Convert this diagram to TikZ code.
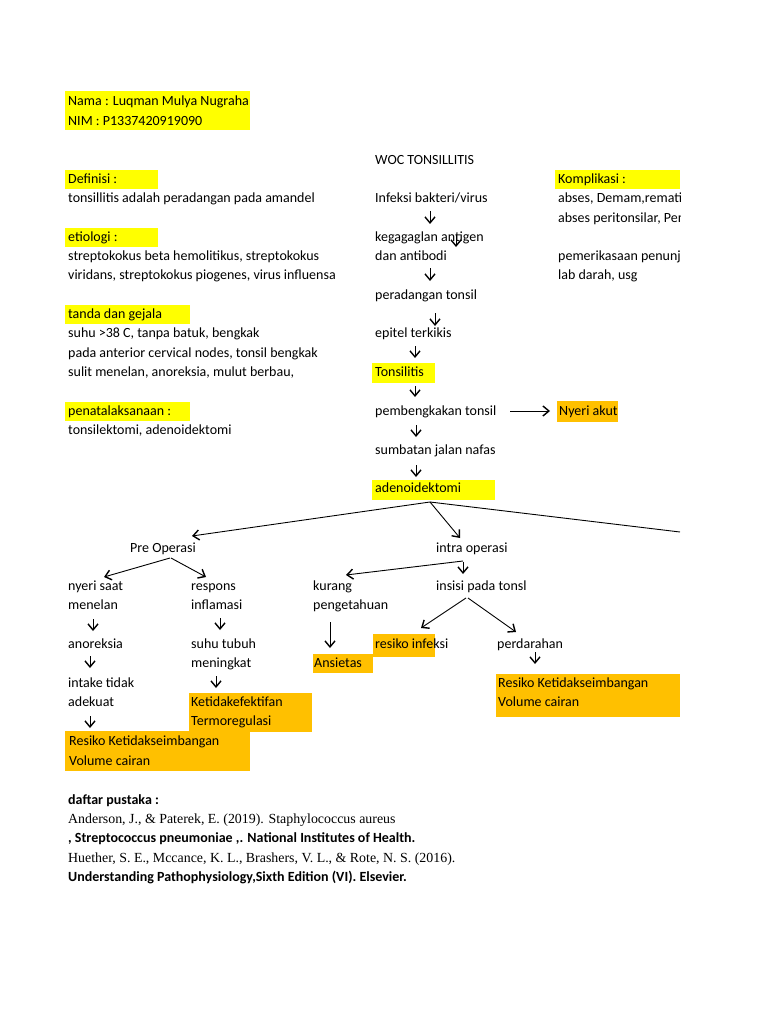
\documentclass[tikz,border=0pt]{standalone}
\usepackage{fontspec}
\setmainfont{Carlito}
\newfontfamily\timesf{Liberation Serif}
\usetikzlibrary{arrows.meta}
\definecolor{hy}{HTML}{FFFF00}
\definecolor{ho}{HTML}{FFC000}
\tikzset{
 t/.style={anchor=west,inner sep=0pt,yshift=-1.5pt,text height=9pt,text depth=3pt,font=\fontsize{14}{19}\selectfont},
 hy/.style={fill=hy},
 ho/.style={fill=ho},
 va/.style={draw,line width=0.9pt,-{Straight Barb[length=6pt,width=10pt,line width=1.4pt]}},
 ln/.style={draw,line width=0.9pt}
}
\begin{document}
\begin{tikzpicture}[x=1pt,y=-1pt]
\useasboundingbox (0,0) rectangle (768,1024);
\fill[white] (0,0) rectangle (768,1024);
% highlights
\fill[hy] (65,91) rectangle (250,130);
\fill[hy] (65,170) rectangle (158,189);
\fill[hy] (65,228) rectangle (158,247);
\fill[hy] (65,305) rectangle (190,324);
\fill[hy] (65,402) rectangle (190,421);
\fill[hy] (555,170) rectangle (680,189);
\fill[hy] (372,363) rectangle (435,383);
\fill[hy] (372,480) rectangle (495,500);
\fill[ho] (557,401) rectangle (618,422);
\fill[ho] (65,731) rectangle (250,771);
\fill[ho] (189,693) rectangle (312,732);
\fill[ho] (313,654) rectangle (373,673);
\fill[ho] (373,634) rectangle (435,657);
\fill[ho] (496,674) rectangle (680,717);
% left column
\node[t] (nama) at (68,101) {Nama : Luqman Mulya Nugraha};
\node[t] (nim) at (68,121) {NIM : P1337420919090};
\node[t] (def) at (68,179) {Definisi :};
\node[t] (def1) at (68,198) {tonsillitis adalah peradangan pada amandel};
\node[t] (eti) at (68,237) {etiologi :};
\node[t] (eti1) at (68,256) {streptokokus beta hemolitikus, streptokokus};
\node[t] (eti2) at (68,275) {viridans, streptokokus piogenes, virus influensa};
\node[t] (tg) at (68,314) {tanda dan gejala};
\node[t] (tg1) at (68,333) {suhu >38 C, tanpa batuk, bengkak};
\node[t] (tg2) at (68,353) {pada anterior cervical nodes, tonsil bengkak};
\node[t] (tg3) at (68,372) {sulit menelan, anoreksia, mulut berbau,};
\node[t] (pen) at (68,411) {penatalaksanaan :};
\node[t] (pen1) at (68,430) {tonsilektomi, adenoidektomi};
% right column
\node[t] (kom) at (558,179) {Komplikasi :};
\begin{scope}
\clip (550,150) rectangle (680,290);
\node[t] (kom1) at (558,198) {abses, Demam,rematik};
\node[t] (kom2) at (558,218) {abses peritonsilar, Pembengkakan};
\node[t] (pm1) at (558,256) {pemerikasaan penunjang};
\node[t] (pm2) at (558,275) {lab darah, usg};
\end{scope}
% middle column
\node[t] (woc) at (375,160) {WOC TONSILLITIS};
\node[t] (inf) at (375,198) {Infeksi bakteri/virus};
\node[t] (keg) at (375,237) {kegagaglan antigen};
\node[t] (keg2) at (375,256) {dan antibodi};
\node[t] (per) at (375,295) {peradangan tonsil};
\node[t] (epi) at (375,333) {epitel terkikis};
\node[t] (ton) at (375,372) {Tonsilitis};
\node[t] (pem) at (375,411) {pembengkakan tonsil};
\node[t] (nyeri) at (559,411) {Nyeri akut};
\node[t] (sum) at (375,450) {sumbatan jalan nafas};
\node[t] (ade) at (375,488) {adenoidektomi};
\draw[va] (430,211) -- (430,224);
\draw[va] (456,235) -- (456,247);
\draw[va] (430,268) -- (430,281);
\draw[va] (435,313) -- (435,326);
\draw[va] (415,346) -- (415,358);
\draw[va] (415,386) -- (415,397);
\draw[va] (510,411) -- (550,411);
\draw[va] (416,425) -- (416,437);
\draw[va] (416,465) -- (416,477);
% tree
\coordinate (root) at (430,502);
\draw[va] (root) -- (192,536);
\draw[va] (root) -- (460,538);
\draw[ln] (root) -- (680,532);
\node[t] (pre) at (130,548) {Pre Operasi};
\node[t] (intra) at (436,548) {intra operasi};
\draw[va] (170,558) -- (104,577);
\draw[va] (171,558) -- (206,577);
\node[t] at (68,586) {nyeri saat};
\node[t] at (68,605) {menelan};
\draw[va] (93,619) -- (93,631);
\node[t] at (68,644) {anoreksia};
\draw[va] (90,656) -- (90,668);
\node[t] at (68,683) {intake tidak};
\node[t] at (68,702) {adekuat};
\draw[va] (90,716) -- (90,728);
\node[t] at (69,741) {Resiko Ketidakseimbangan};
\node[t] at (69,761) {Volume cairan};
\node[t] at (191,586) {respons};
\node[t] at (191,605) {inflamasi};
\draw[va] (220,618) -- (220,630);
\node[t] at (191,644) {suhu tubuh};
\node[t] at (191,663) {meningkat};
\draw[va] (216,676) -- (216,688);
\node[t] at (191,702) {Ketidakefektifan};
\node[t] at (191,721) {Termoregulasi};
\draw[va] (463,561) -- (346,575);
\draw[va] (463,562) -- (463,574);
\node[t] at (313,586) {kurang};
\node[t] at (313,605) {pengetahuan};
\draw[va] (330,622) -- (330,648);
\node[t] at (314,663) {Ansietas};
\node[t] at (436,586) {insisi pada tonsl};
\draw[va] (466,598) -- (421,628);
\draw[va] (468,598) -- (516,632);
\node[t] at (375,644) {resiko infeksi};
\node[t] at (497,644) {perdarahan};
\draw[va] (535,652) -- (535,664);
\node[t] at (498,683) {Resiko Ketidakseimbangan};
\node[t] at (498,702) {Volume cairan};
% references
\node[t] at (68,800) {\bfseries daftar pustaka :};
\node[t] at (68,819) {\timesf\fontsize{13.9}{19}\selectfont Anderson, J., \& Paterek, E. (2019). Staphylococcus aureus};
\node[t] at (68,838) {\bfseries , Streptococcus pneumoniae ,. National Institutes of Health.};
\node[t] at (68,858) {\timesf\fontsize{13.9}{19}\selectfont Huether, S. E., Mccance, K. L., Brashers, V. L., \& Rote, N. S. (2016).};
\node[t] at (68,877) {\bfseries Understanding Pathophysiology,Sixth Edition (VI). Elsevier.};
\end{tikzpicture}
\end{document}
